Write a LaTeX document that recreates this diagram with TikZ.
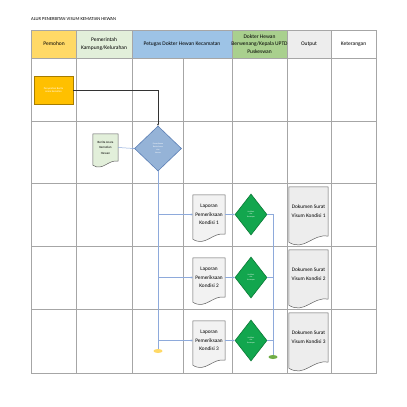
\documentclass[tikz,border=0pt]{standalone}
\usepackage{fontspec}
\setmainfont{Carlito}
\usetikzlibrary{shapes.geometric,calc,arrows.meta}
\definecolor{hdrYel}{HTML}{FFD966}
\definecolor{hdrGrn}{HTML}{E2EFDA}
\definecolor{hdrBlu}{HTML}{9DC3E6}
\definecolor{hdrDok}{HTML}{A9D08E}
\definecolor{hdrOut}{HTML}{EDEDED}
\definecolor{gridc}{HTML}{A6A6A6}
\definecolor{boxYel}{HTML}{FFC000}
\definecolor{boxYelD}{HTML}{A67C00}
\definecolor{diaBlu}{HTML}{95B3D7}
\definecolor{diaBluD}{HTML}{5B7FB5}
\definecolor{diaGrn}{HTML}{12A64E}
\definecolor{diaGrnD}{HTML}{0B7A37}
\definecolor{docG}{HTML}{F2F2F2}
\definecolor{docD}{HTML}{5F5F5F}
\definecolor{flowc}{HTML}{8EAADB}
\definecolor{ellY}{HTML}{FFD966}
\definecolor{ellG}{HTML}{70AD47}
\newcommand\docshape[4]{%
  \draw[#1] ($(#2.south west)+(0,#4)$) -- (#2.north west) -- (#2.north east) -- (#2.south east)
    .. controls +(-0.4*#3,-0.5*#4) and +(0.4*#3,1.6*#4) .. ($(#2.south west)+(0,#4)$) -- cycle;}
\begin{document}
\begin{tikzpicture}[x=1pt,y=-1pt,
  hdr/.style={align=center,font=\fontsize{5.5}{7.5}\selectfont,inner sep=0},
  grid/.style={draw=gridc,line width=0.7pt},
  docbody/.style={draw=none,inner sep=0},
  doctext/.style={align=center,font=\fontsize{5.3}{8.5}\selectfont,inner sep=0},
  docline/.style={draw=docD,line width=0.5pt,fill=docG},
  flow/.style={draw=flowc,line width=0.5pt},
  tip/.style={-{Stealth[length=2pt,width=2pt]}},
  tinyw/.style={align=center,text=white,font=\fontsize{2}{3}\selectfont,inner sep=0}
]
\useasboundingbox (0,0) rectangle (407,407);
\fill[white] (0,0) rectangle (407,407);
% title
\node[anchor=west,inner sep=0,font=\fontsize{4.6}{5}\selectfont] (title) at (31,19) {ALUR PENERBITAN VISUM KEMATIAN HEWAN};
% header fills
\fill[hdrYel] (31.5,30) rectangle (76,58);
\fill[hdrGrn] (76,30) rectangle (132,58);
\fill[hdrBlu] (132,30) rectangle (232,58);
\fill[hdrDok] (232,30) rectangle (287,58);
\fill[hdrOut] (287,30) rectangle (331,58);
% grid
\draw[grid] (31.5,30) rectangle (376,373);
\foreach \yy in {58,121,183,246,309} \draw[grid] (31.5,\yy) -- (376,\yy);
\foreach \xx in {76,132,232,287,331} \draw[grid] (\xx,30) -- (\xx,373);
\draw[grid] (183,58) -- (183,373);
% header texts
\node[hdr] (h1) at (54,44) {Pemohon};
\node[hdr] (h2) at (104,44) {Pemerintah\\Kampung/Kelurahan};
\node[hdr] (h3) at (182,44) {Petugas Dokter Hewan Kecamatan};
\node[hdr] (h4) at (259.5,44) {Dokter Hewan\\Berwenang/Kepala UPTD\\Puskeswan};
\node[hdr] (h5) at (309,44) {Output};
\node[hdr] (h6) at (353.5,44) {Keterangan};
% pemohon box
\node[draw=boxYelD,fill=boxYel,line width=0.6pt,minimum width=39pt,minimum height=28pt,tinyw,font=\fontsize{2.6}{3.6}\selectfont] (req) at (53.5,90) {Penyerahan Berita\\Acara Kematian};
% berita acara doc
\node[docbody,minimum width=25pt,minimum height=27pt] (bac) at (105.5,147.5) {};
\docshape{docline,fill=hdrGrn}{bac}{25}{4}
\node[doctext,font=\fontsize{3.2}{5.5}\selectfont] (bact) at (bac.center) {Berita Acara\\Kematian\\Hewan};
% blue diamond
\node[diamond,draw=diaBluD,fill=diaBlu,line width=0.6pt,minimum width=47pt,minimum height=45pt,inner sep=0,tinyw] (dia1) at (158,148.5) {Pemeriksaan\\Berita Acara\\dan\\Hewan};
% laporan docs
\foreach \n/\yc in {1/214.5,2/277.5,3/340.5}{
  \node[docbody,minimum width=32pt,minimum height=39pt] (lap\n) at (209,\yc) {};
}
\docshape{docline}{lap1}{32}{5}
\docshape{docline}{lap2}{32}{5}
\docshape{docline}{lap3}{32}{5}
\node[doctext] (lap1t) at (lap1.center) {Laporan\\Pemeriksaan\\Kondisi 1};
\node[doctext] (lap2t) at (lap2.center) {Laporan\\Pemeriksaan\\Kondisi 2};
\node[doctext] (lap3t) at (lap3.center) {Laporan\\Pemeriksaan\\Kondisi 3};
% green diamonds
\foreach \n/\yc in {1/214.5,2/277.5,3/340.5}{
  \node[diamond,draw=diaGrnD,fill=diaGrn,line width=0.6pt,minimum width=32pt,minimum height=41pt,inner sep=0,tinyw,font=\fontsize{1.8}{2.6}\selectfont] (gd\n) at (251,\yc) {Verifikasi\\dan\\Penetapan};
}
% output docs
\node[docbody,minimum width=39pt,minimum height=49pt] (out1) at (308.5,211.5) {};
\node[docbody,minimum width=39pt,minimum height=49pt] (out2) at (308.5,274.5) {};
\node[docbody,minimum width=39pt,minimum height=49pt] (out3) at (308.5,337.5) {};
\docshape{docline,fill=hdrOut}{out1}{39}{6}
\docshape{docline,fill=hdrOut}{out2}{39}{6}
\docshape{docline,fill=hdrOut}{out3}{39}{6}
\node[doctext,font=\fontsize{5.3}{9}\selectfont] (out1t) at (out1.center) {Dokumen Surat\\Visum Kondisi 1};
\node[doctext,font=\fontsize{5.3}{9}\selectfont] (out2t) at (out2.center) {Dokumen Surat\\Visum Kondisi 2};
\node[doctext,font=\fontsize{5.3}{9}\selectfont] (out3t) at (out3.center) {Dokumen Surat\\Visum Kondisi 3};
% end ellipses
\node[ellipse,fill=ellY,minimum width=9pt,minimum height=4pt,inner sep=0] (ell1) at (158,351) {};
\node[ellipse,fill=ellG,minimum width=9pt,minimum height=4pt,inner sep=0] (ell2) at (273,357) {};
% connectors
\draw[black!80,line width=0.5pt,tip] (req.east) -| (dia1.north);
\draw[flow,tip] (bac.east) -- (dia1.west);
\draw[flow] (dia1.south) -- (ell1.north);
\draw[flow,tip] (dia1.south |- lap1.west) -- (lap1.west);
\draw[flow,tip] (dia1.south |- lap2.west) -- (lap2.west);
\draw[flow,tip] (dia1.south |- lap3.west) -- (lap3.west);
\draw[flow,tip] (lap1.east) -- (gd1.west);
\draw[flow,tip] (lap2.east) -- (gd2.west);
\draw[flow,tip] (lap3.east) -- (gd3.west);
\coordinate (gv) at (273,214.5);
\draw[flow] (gd1.east) -- (gv) -- (ell2.north);
\draw[flow] (gd2.east) -- (gv |- gd2.east);
\draw[flow] (gd3.east) -- (gv |- gd3.east);
\end{tikzpicture}
\end{document}
